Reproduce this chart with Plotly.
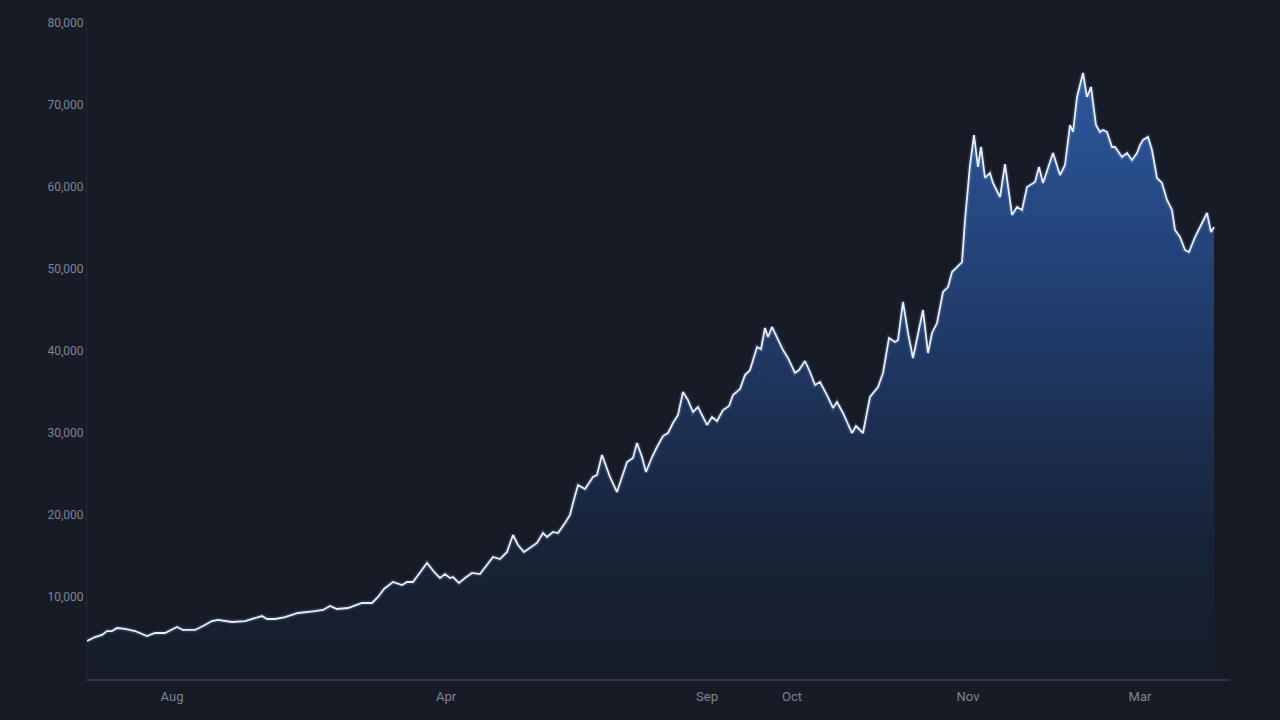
import plotly.graph_objects as go

# Day offset from start of series, and price value
days = [0, 8, 15, 20, 25, 30, 38, 48, 60, 68, 78, 85, 90, 96, 108, 116, 125, 131, 145, 158,
        168, 175, 180, 188, 198, 211, 228, 236, 243, 250, 261, 275, 285, 291, 297, 306, 315, 320,
        326, 340, 348, 353, 358, 363, 366, 372, 378, 385, 393, 403, 406, 413, 420, 426, 431, 437,
        443, 450, 456, 460, 466, 471, 478, 483, 486, 491, 498, 506, 510, 515, 523, 530, 540, 546,
        550, 555, 559, 565, 570, 576, 581, 586, 591, 596, 601, 606, 611, 615, 620, 625, 630, 636,
        642, 646, 653, 658, 663, 670, 674, 678, 681, 685, 690, 696, 701, 708, 712, 718, 723, 728,
        733, 740, 746, 750, 756, 765, 769, 776, 783, 791, 796, 802, 808, 811, 816, 821, 826, 831,
        836, 841, 845, 850, 856, 861, 865, 870, 875, 878, 883, 887, 891, 894, 898, 903, 906, 913,
        918, 925, 930, 935, 940, 948, 952, 956, 966, 973, 978, 983, 986, 990, 996, 1000, 1004,
        1009, 1013, 1016, 1020, 1025, 1028, 1035, 1040, 1045, 1050, 1053, 1056, 1061, 1065, 1070,
        1075, 1080, 1085, 1088, 1093, 1098, 1102, 1108, 1115, 1120, 1124, 1127]

prices = [4630, 5120, 5370, 5850, 5850, 6220, 6100, 5850, 5240, 5610, 5610, 5980, 6340, 5980,
          5980, 6460, 7070, 7200, 6950, 7070, 7440, 7680, 7320, 7320, 7560, 8050, 8290, 8420,
          8900, 8540, 8660, 9270, 9270, 10000, 10980, 11830, 11460, 11830, 11830, 14150, 12930,
          12320, 12800, 12320, 12440, 11710, 12320, 12930, 12800, 14510, 14880, 14630, 15490,
          17560, 16340, 15490, 15980, 16590, 17800, 17320, 17930, 17800, 19020, 20000, 21460,
          23660, 23170, 24630, 24880, 27320, 24630, 22800, 26460, 26950, 28780, 27070, 25240,
          27070, 28290, 29630, 30000, 31220, 32200, 35000, 34020, 32560, 33170, 32200, 30980,
          31950, 31460, 32800, 33290, 34630, 35370, 37070, 37680, 40490, 40240, 42800, 41710,
          42930, 41710, 40120, 39150, 37320, 37680, 38780, 37440, 35850, 36220, 34630, 33050,
          33780, 32440, 30000, 30850, 30000, 34390, 35610, 37320, 41590, 41100, 41340, 45980,
          42200, 39150, 42200, 45000, 39760, 42200, 43410, 47200, 47800, 49630, 50240, 50850,
          55980, 62680, 66340, 62440, 64880, 61100, 61710, 60490, 58780, 62800, 56590, 57560,
          57200, 60000, 60610, 62440, 60490, 64150, 61460, 62680, 67560, 66710, 70980, 73900,
          70980, 72200, 67560, 66710, 66950, 66710, 64880, 64880, 63660, 64150, 63290, 64150,
          65120, 65730, 66100, 64510, 61100, 60490, 58420, 57200, 54760, 53900, 52320, 52070,
          53900, 55610, 56830, 54510, 55120]

x_tick_vals = [85, 359, 620, 705, 881, 1053]
x_tick_text = ["Aug", "Apr", "Sep", "Oct", "Nov", "Mar"]
y_tick_vals = [10000, 20000, 30000, 40000, 50000, 60000, 70000, 80000]
y_tick_text = ["10,000", "20,000", "30,000", "40,000", "50,000", "60,000", "70,000", "80,000"]

BG = "#161b26"
TICK = "#7c8696"

fig = go.Figure()

# area fill with vertical gradient
fig.add_trace(go.Scatter(
    x=days, y=prices, mode="lines",
    line=dict(color="rgba(0,0,0,0)", width=0),
    fill="tozeroy",
    fillgradient=dict(
        type="vertical",
        start=0, stop=74000,
        colorscale=[[0, "rgba(22,28,40,1)"], [0.25, "rgb(24,36,58)"],
                    [0.6, "rgb(32,60,108)"], [1, "rgb(44,88,158)"]],
    ),
    hoverinfo="skip", showlegend=False,
))
# glow
fig.add_trace(go.Scatter(
    x=days, y=prices, mode="lines",
    line=dict(color="rgba(170,200,255,0.16)", width=5),
    hoverinfo="skip", showlegend=False,
))
# main line
fig.add_trace(go.Scatter(
    x=days, y=prices, mode="lines",
    line=dict(color="#e9f0fb", width=1.8),
    showlegend=False,
))

fig.update_layout(
    width=1280, height=720,
    paper_bgcolor=BG, plot_bgcolor=BG,
    margin=dict(l=87, r=50, t=23, b=41),
    font=dict(family="Roboto, 'Liberation Sans', sans-serif", color=TICK, size=12),
    xaxis=dict(
        range=[0, 1143], tickvals=x_tick_vals, ticktext=x_tick_text,
        showgrid=False, zeroline=False,
        showline=True, linecolor="#2c3646", linewidth=2,
        ticks="outside", ticklen=4, tickcolor="rgba(0,0,0,0)",
        tickfont=dict(color=TICK, size=13),
    ),
    yaxis=dict(
        range=[0, 80000], tickvals=y_tick_vals, ticktext=y_tick_text,
        showgrid=False, zeroline=False,
        showline=True, linecolor="#222a37", linewidth=1,
        ticks="", tickfont=dict(color=TICK, size=12),
    ),
)

fig.write_html(
    "out.html",
    config={"displayModeBar": False},
    post_script="document.body.style.margin='0';document.body.style.background='#161b26';",
)
